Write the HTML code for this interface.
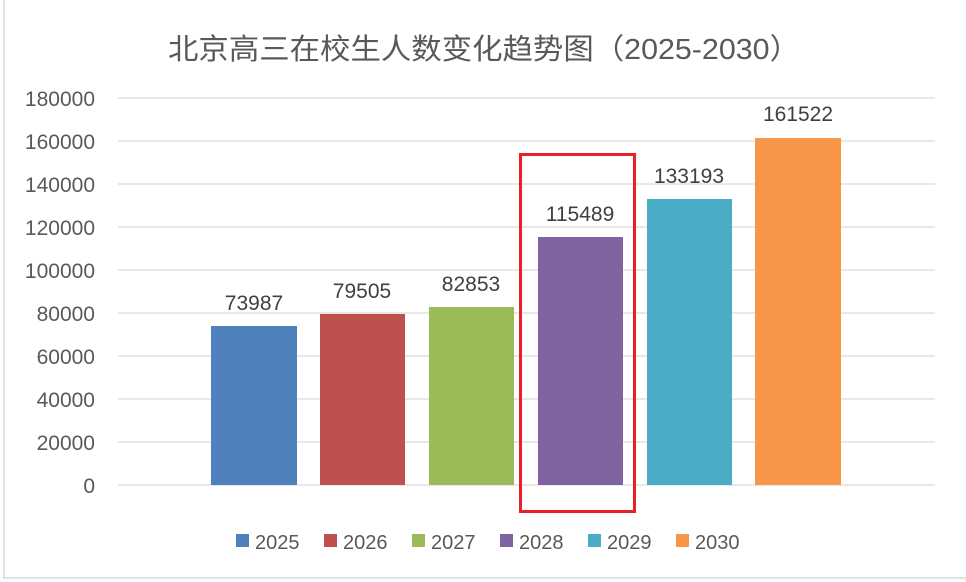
<!DOCTYPE html><html><head><meta charset="utf-8"><style>body{margin:0;background:#fff}svg{display:block}</style></head><body>
<svg width="966" height="582" xmlns="http://www.w3.org/2000/svg" font-family="Liberation Sans, Noto Sans CJK SC, sans-serif">
<rect x="0" y="0" width="966" height="582" fill="#fff"/>
<rect x="4" y="-2" width="964" height="580" fill="#fff" stroke="#d9d9d9" stroke-width="1.5"/>
<text x="484" y="59" text-anchor="middle" font-size="29" fill="#595959" textLength="632" lengthAdjust="spacingAndGlyphs">北京高三在校生人数变化趋势图（2025-2030）</text>
<g stroke="#d9d9d9" stroke-width="1.3">
<line x1="118" x2="935" y1="98" y2="98"/><line x1="118" x2="935" y1="141" y2="141"/><line x1="118" x2="935" y1="184" y2="184"/><line x1="118" x2="935" y1="227" y2="227"/><line x1="118" x2="935" y1="270" y2="270"/><line x1="118" x2="935" y1="313" y2="313"/><line x1="118" x2="935" y1="356" y2="356"/><line x1="118" x2="935" y1="399" y2="399"/><line x1="118" x2="935" y1="442" y2="442"/><line x1="118" x2="935" y1="485" y2="485"/>
</g>
<g font-size="21" fill="#595959" text-anchor="end">
<text x="95" y="106">180000</text><text x="95" y="149">160000</text><text x="95" y="192">140000</text><text x="95" y="235">120000</text><text x="95" y="278">100000</text><text x="95" y="321">80000</text><text x="95" y="364">60000</text><text x="95" y="407">40000</text><text x="95" y="450">20000</text><text x="95" y="493">0</text>
</g>
<rect x="211" y="326" width="86" height="159" fill="#4f81bd"/>
<rect x="320" y="314" width="85" height="171" fill="#c0504d"/>
<rect x="429" y="307" width="85" height="178" fill="#9bbb59"/>
<rect x="538" y="237" width="85" height="248" fill="#8064a2"/>
<rect x="647" y="199" width="85" height="286" fill="#4bacc6"/>
<rect x="755" y="138" width="86" height="347" fill="#f79646"/>
<g font-size="21" fill="#404040" text-anchor="middle">
<text x="254" y="310">73987</text><text x="362" y="298">79505</text><text x="471" y="291">82853</text><text x="580" y="221">115489</text><text x="689" y="183">133193</text><text x="798" y="121">161522</text>
</g>
<rect x="520.5" y="154.5" width="114" height="357" fill="none" stroke="#e8202a" stroke-width="3"/>
<g font-size="20" fill="#595959">
<rect x="236" y="534" width="13" height="13" fill="#4f81bd"/><text x="255" y="549">2025</text>
<rect x="324" y="534" width="13" height="13" fill="#c0504d"/><text x="343" y="549">2026</text>
<rect x="412" y="534" width="13" height="13" fill="#9bbb59"/><text x="431" y="549">2027</text>
<rect x="500" y="534" width="13" height="13" fill="#8064a2"/><text x="519" y="549">2028</text>
<rect x="588" y="534" width="13" height="13" fill="#4bacc6"/><text x="607" y="549">2029</text>
<rect x="676" y="534" width="13" height="13" fill="#f79646"/><text x="695" y="549">2030</text>
</g>
</svg></body></html>
